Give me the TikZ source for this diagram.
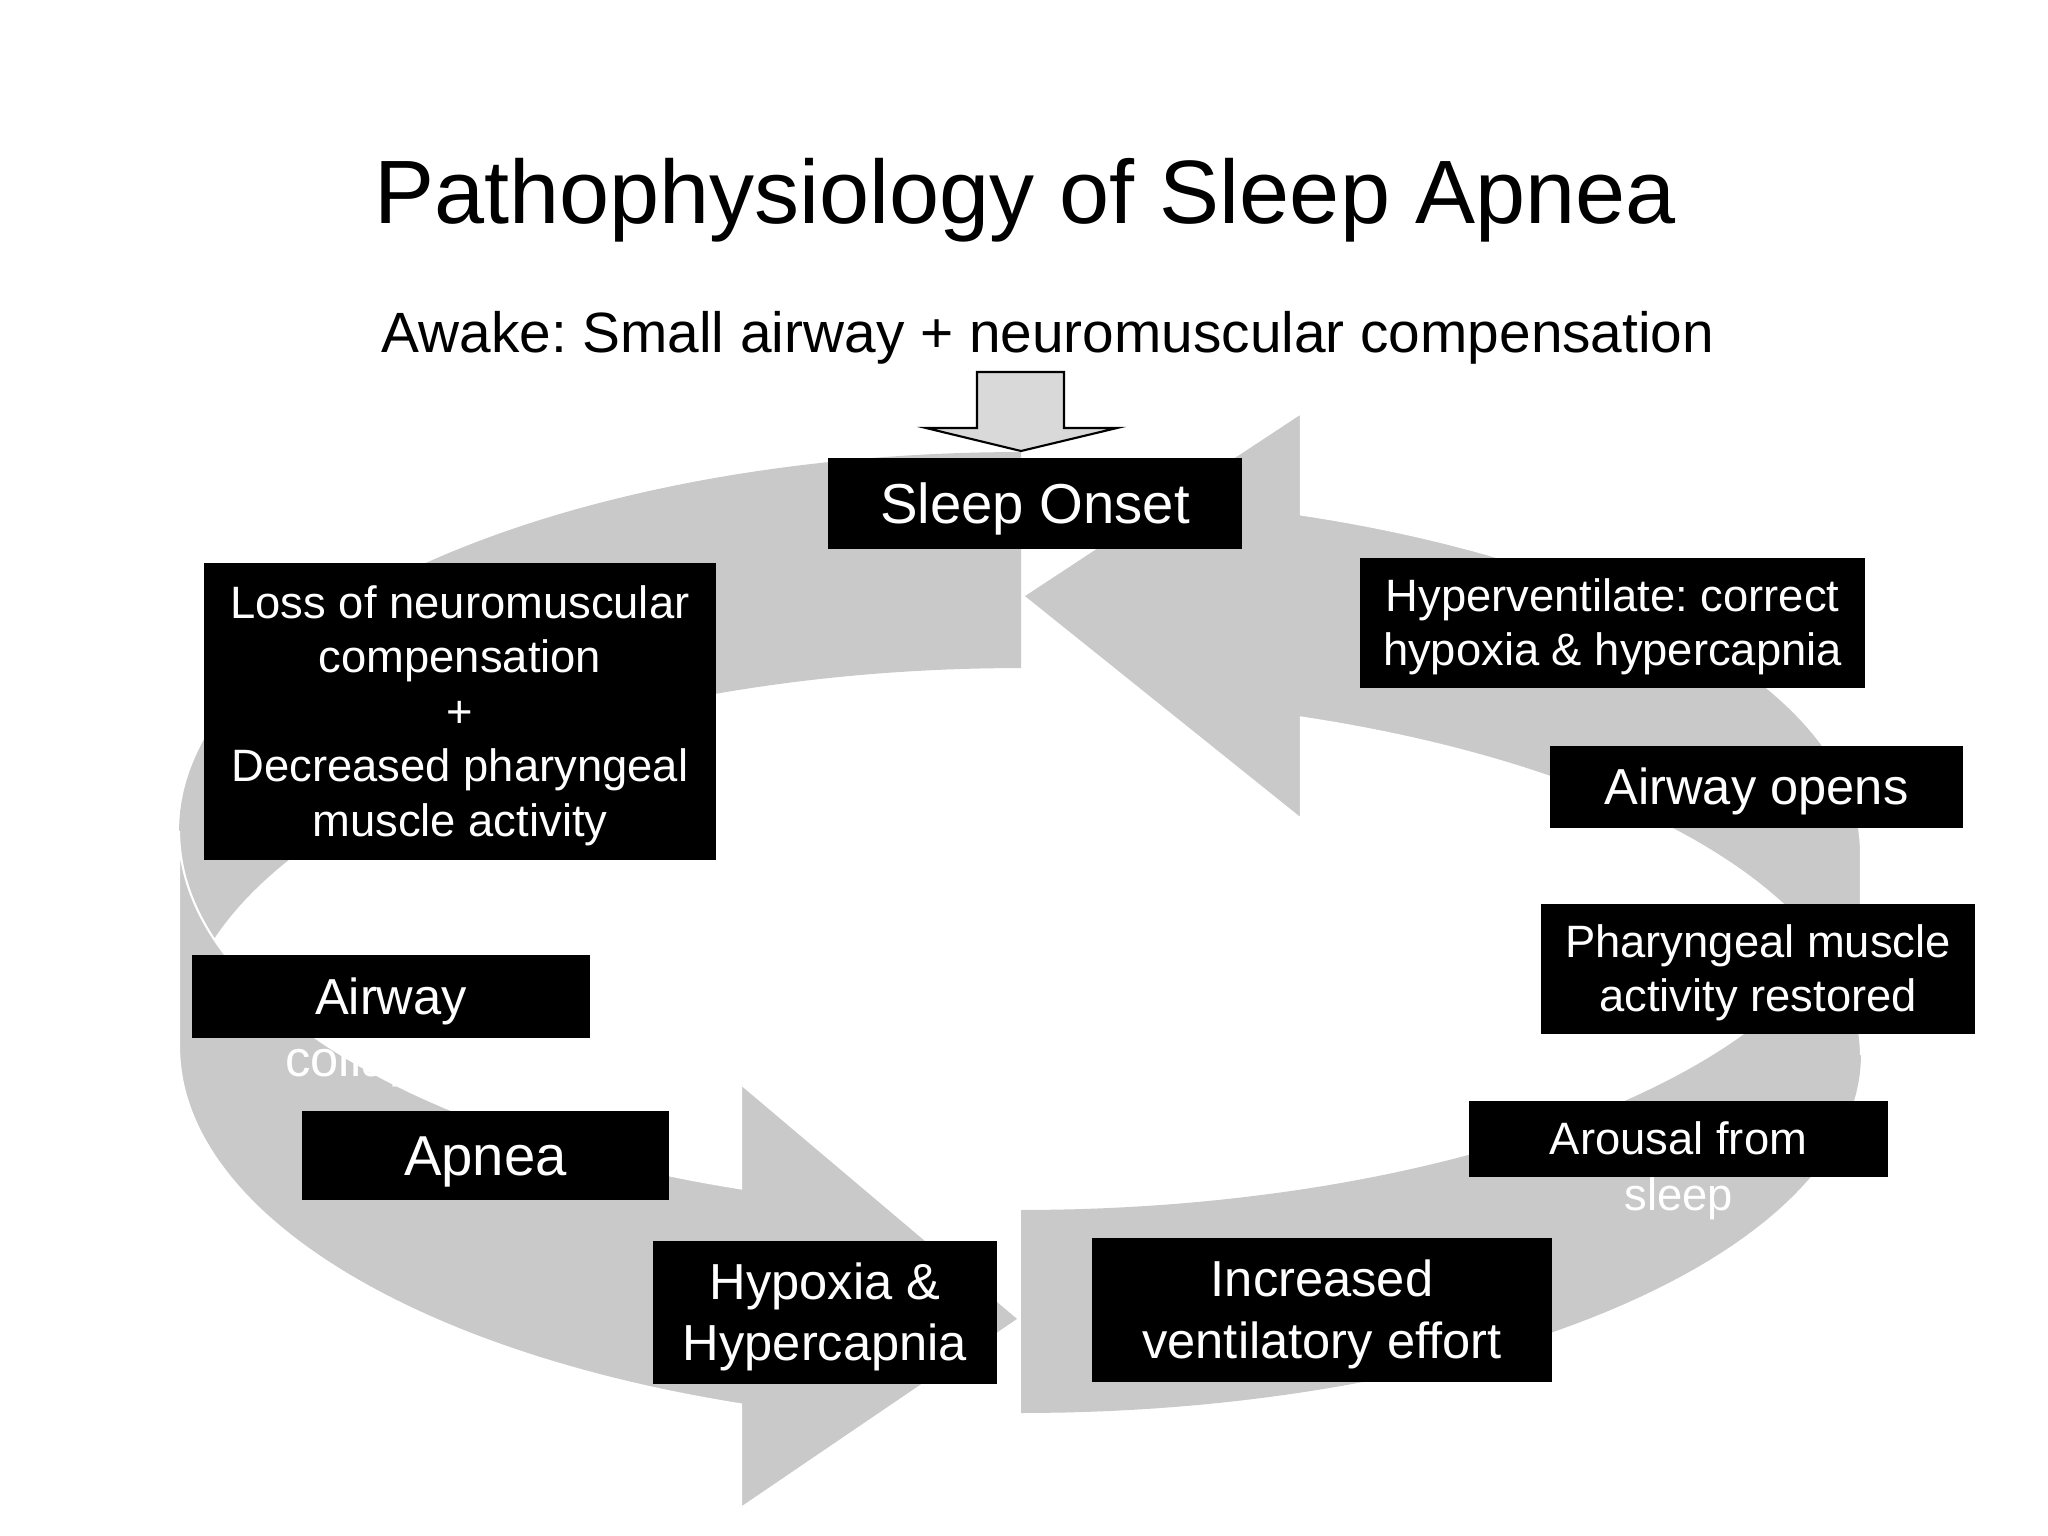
\documentclass[tikz,border=0pt]{standalone}
\usepackage{fontspec}
\setmainfont{Liberation Sans}
\definecolor{ringgray}{RGB}{201,201,201}
\definecolor{arrowgray}{RGB}{217,217,217}
\newcommand{\fullasc}{\rule{0pt}{0.905em}}

\begin{document}
\frenchspacing
\begin{tikzpicture}[x=0.01cm,y=-0.01cm,
  box/.style={fill=black, text=white, inner sep=0pt, align=center,
    execute at begin node=\fullasc,
    execute at end node=\rule[-0.212em]{0pt}{0pt}},
  ring/.style={fill=ringgray},
  fold/.style={fill=ringgray, draw=white, line width=0.6pt},
  fS/.style={font=\fontsize{12.9}{15.5}\selectfont},
  fM/.style={font=\fontsize{14.4}{17.4}\selectfont},
  fL/.style={font=\fontsize{16}{19.2}\selectfont}]
\fill[white] (0,0) rectangle (2048,1536);
\useasboundingbox (0,0) rectangle (2048,1536);
\node[anchor=base, font=\fontsize{25.6}{30}\selectfont] (title) at (1025,223) {Pathophysiology of Sleep Apnea};
\node[anchor=base, font=\fontsize{16.15}{19}\selectfont] (awake) at (1048,352) {Awake: Small airway + neuromuscular compensation};
% left curved arrow, tail at the top, head at the bottom
\fill[ring] plot[domain=-90:-180,samples=60] ({1021+842*cos(\x)},{831+379*sin(\x)})
  -- plot[domain=180:163.44,samples=20] ({1021+842*cos(\x)},{831+379*sin(\x)})
  -- plot[domain=196.56:270,samples=60] ({1021+842*cos(\x)},{1047+379*sin(\x)}) -- cycle;
\filldraw[fold] plot[domain=180:109.42,samples=60] ({1021+842*cos(\x)},{831+379*sin(\x)})
  -- (741,1084) -- (1019,1319) -- (741,1508)
  -- plot[domain=109.42:180,samples=60] ({1021+842*cos(\x)},{1047+379*sin(\x)}) -- cycle;
% right curved arrow, tail at the bottom, head at the top
\fill[ring] plot[domain=90:0,samples=60] ({1021+840*cos(\x)},{1055+358*sin(\x)})
  -- plot[domain=0:-16.47,samples=20] ({1021+840*cos(\x)},{1055+358*sin(\x)})
  -- plot[domain=16.47:90,samples=60] ({1021+840*cos(\x)},{852+358*sin(\x)}) -- cycle;
\filldraw[fold] plot[domain=0:-70.53,samples=60] ({1021+840*cos(\x)},{1055+358*sin(\x)})
  -- (1301,819) -- (1023,596) -- (1301,413)
  -- plot[domain=-70.53:0,samples=60] ({1021+840*cos(\x)},{852+358*sin(\x)}) -- cycle;
% block arrow into sleep onset
\filldraw[fill=arrowgray, draw=black, line width=0.6pt] (977,372) -- (1064,372) -- (1064,428)
  -- (1117,428) -- (1021,451) -- (926,428) -- (977,428) -- cycle;
% boxes
\node[box, fL, minimum width=4.14cm, minimum height=0.91cm] (onset) at (1035,503.5) {Sleep Onset};
\node[box, fS, minimum width=5.12cm, minimum height=2.97cm] (loss) at (460,711.5) {\fullasc Loss of neuromuscular\\compensation\\+\\Decreased pharyngeal\\muscle activity};
\node[box, fM, minimum width=3.98cm, minimum height=0.83cm] (airway) at (391,996.5) {Airway};
\node[anchor=base, text=white, fM] (collapse) at (391,1076) {collapses};
\node[box, fL, minimum width=3.67cm, minimum height=0.89cm] (apnea) at (485.5,1155.5) {Apnea};
\node[box, fM, minimum width=3.44cm, minimum height=1.43cm] (hypox) at (825,1312.5) {\fullasc Hypoxia \&\\Hypercapnia};
\node[box, fM, minimum width=4.60cm, minimum height=1.44cm] (effort) at (1322,1310) {\fullasc Increased\\ventilatory effort};
\node[box, fS, minimum width=4.19cm, minimum height=0.76cm] (arousal) at (1678.5,1139) {Arousal from};
\node[anchor=base, text=white, fS] (sleep) at (1679,1210) {sleep};
\node[box, fS, minimum width=4.34cm, minimum height=1.30cm] (pharyn) at (1758,969) {\fullasc Pharyngeal muscle\\activity restored};
\node[box, fM, minimum width=4.13cm, minimum height=0.82cm] (opens) at (1756.5,787) {Airway opens};
\node[box, fS, minimum width=5.05cm, minimum height=1.30cm] (hyper) at (1612.5,623) {\fullasc Hyperventilate: correct\\hypoxia \& hypercapnia};
\end{tikzpicture}
\end{document}
